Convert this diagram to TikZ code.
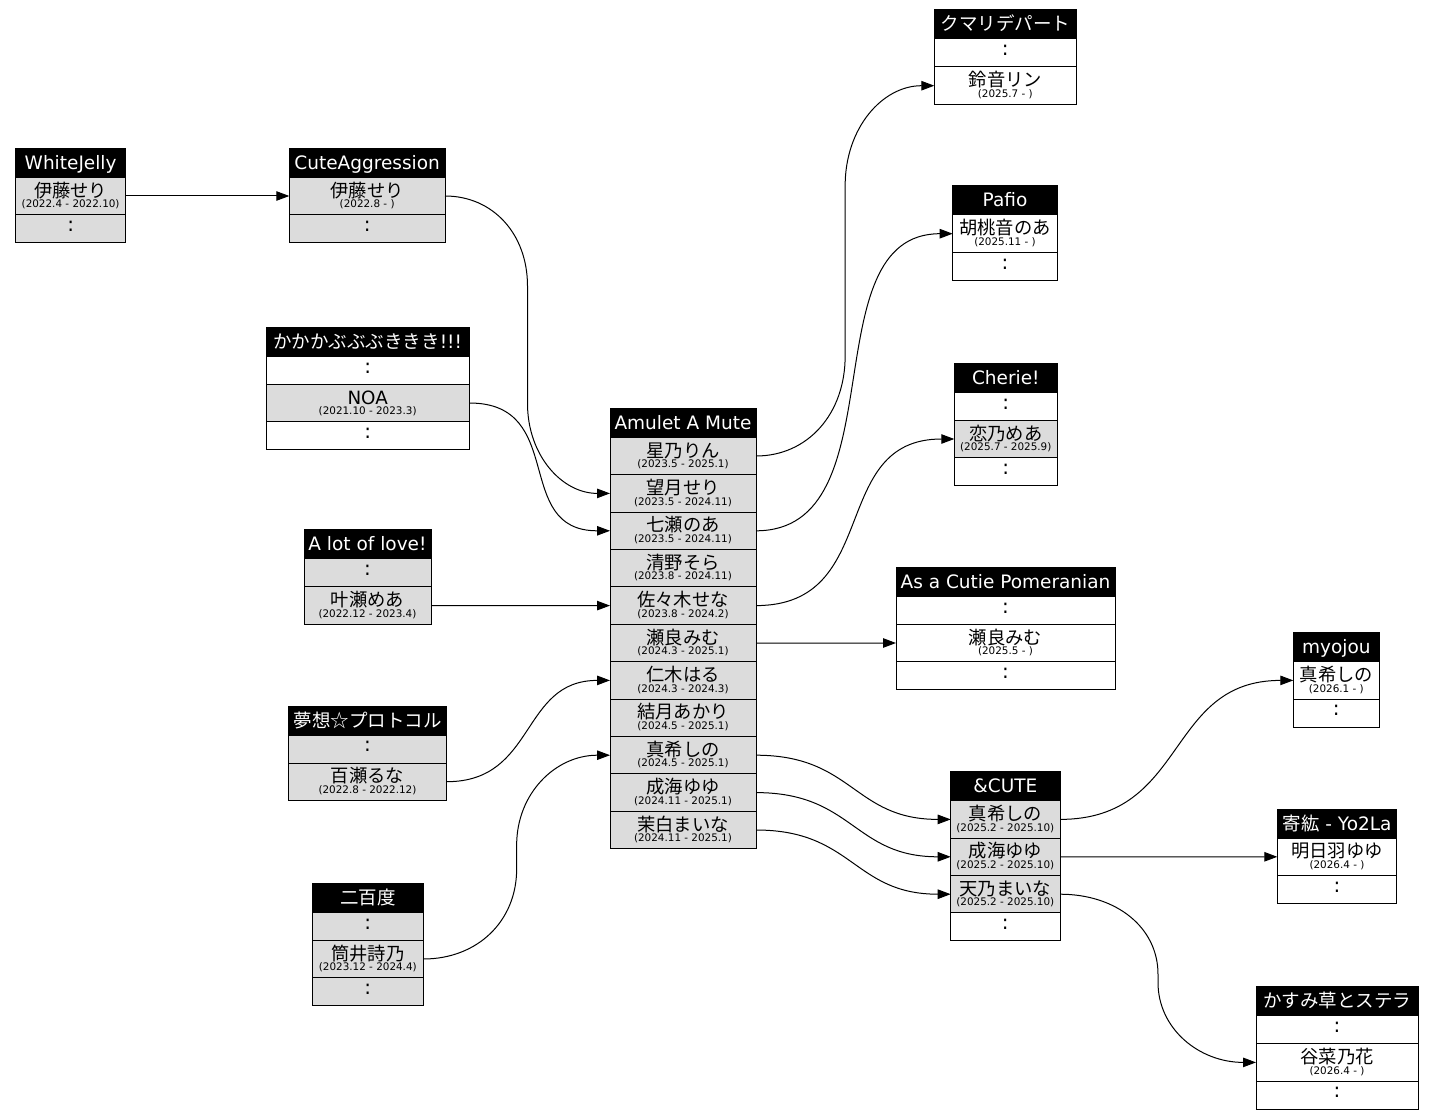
\documentclass[tikz,border=0pt]{standalone}
\usepackage{fontspec}
\setmainfont{DejaVu Sans}
\newfontfamily\jp{Noto Sans CJK JP}
\usetikzlibrary{calc,arrows.meta}
\definecolor{rowgray}{HTML}{DCDCDC}
\tikzset{
 boxline/.style={draw=black, line width=1pt, inner sep=0pt, outer sep=0pt, anchor=north west},
 ttlbox/.style={boxline, fill=black, minimum height=29pt},
 colbox/.style={boxline, minimum height=28pt},
 nambox/.style={boxline, minimum height=37.4pt},
 ttltxt/.style={anchor=base, inner sep=0pt, text=white, font=\fontsize{18.5}{20}\selectfont},
 coltxt/.style={anchor=base, inner sep=0pt, font=\fontsize{20}{22}\selectfont},
 namtxt/.style={anchor=base, inner sep=0pt, font=\fontsize{18.3}{20}\selectfont},
 datetxt/.style={anchor=base, inner sep=0pt, font=\fontsize{10.4}{12}\selectfont},
 edge/.style={draw=black, line width=1pt, -{Triangle[length=13pt,width=9.5pt]}},
}
\newcommand\Ttl[5]{\def\bw{#4}%
 \node[ttlbox, minimum width=#4pt] (#1) at (#2,#3) {};
 \node[ttltxt] (#1-t) at ($(#1.north)+(0,21)$) {#5};}
\newcommand\Col[3]{%
 \node[colbox, fill=#3, minimum width=\bw pt] (#1) at (#2.south west) {};
 \node[coltxt] (#1-t) at ($(#1.north)+(0,16.8)$) {:};}
\newcommand\Nam[5]{%
 \node[nambox, fill=#3, minimum width=\bw pt] (#1) at (#2.south west) {};
 \node[namtxt] (#1-n) at ($(#1.north)+(0,19.8)$) {#4};
 \node[datetxt] (#1-d) at ($(#1.north)+(0,30.4)$) {#5};}
% S-curve, control points at fraction #3 of the horizontal run
\newcommand\Gconn[3]{%
 \draw[edge] (#1.east) .. controls ($(#1.east)!#3!(#2.west |- #1.east)$)
   and ($(#2.west)!#3!(#1.east |- #2.west)$) .. (#2.west);}
% S-curve with a straight vertical middle, corner height #3
\newcommand\Lconn[3]{%
 \coordinate (mm) at ($(#1.east)!0.5!(#2.west)$);
 \coordinate (c1) at (mm |- #1.east);
 \coordinate (c2) at (mm |- #2.west);
 \draw[edge] (#1.east) .. controls ($(#1.east)!0.58!(c1)$) and ($(c1)!0.42*#3!(c2)$) .. ($(c1)!#3!(c2)$)
   -- ($(c2)!#3!(c1)$) .. controls ($(c2)!0.42*#3!(c1)$) and ($(#2.west)!0.58!(c2)$) .. (#2.west);}
\begin{document}
\begin{tikzpicture}[x=1pt,y=-1pt]
\fill[white] (0,0) rectangle (1433,1118);
\useasboundingbox (0,0) rectangle (1433,1118);

% WhiteJelly
\Ttl{wj}{15.5}{148.3}{110.3}{WhiteJelly}
\Nam{wj1}{wj}{rowgray}{\jp 伊藤せり}{(2022.4 - 2022.10)}
\Col{wj2}{wj1}{rowgray}
% CuteAggression
\Ttl{ca}{289.3}{148.3}{155.7}{CuteAggression}
\Nam{ca1}{ca}{rowgray}{\jp 伊藤せり}{(2022.8 - )}
\Col{ca2}{ca1}{rowgray}
% kakaka
\Ttl{kk}{266}{327.3}{203.3}{{\jp かかかぶぶぶききき}!!!}
\Col{kk1}{kk}{white}
\Nam{kk2}{kk1}{rowgray}{NOA}{(2021.10 - 2023.3)}
\Col{kk3}{kk2}{white}
% A lot of love!
\Ttl{al}{304}{529.9}{127}{A lot of love!}
\Col{al1}{al}{rowgray}
\Nam{al2}{al1}{rowgray}{\jp 叶瀬めあ}{(2022.12 - 2023.4)}
% Mugen protocol
\Ttl{mp}{288.3}{706}{158.4}{{\jp 夢想☆プロトコル}}
\Col{mp1}{mp}{rowgray}
\Nam{mp2}{mp1}{rowgray}{\jp 百瀬るな}{(2022.8 - 2022.12)}
% Nihyakudo
\Ttl{nh}{312.3}{883.3}{111}{{\jp 二百度}}
\Col{nh1}{nh}{rowgray}
\Nam{nh2}{nh1}{rowgray}{\jp 筒井詩乃}{(2023.12 - 2024.4)}
\Col{nh3}{nh2}{rowgray}
% Amulet A Mute
\Ttl{am}{610}{408.3}{146}{Amulet A Mute}
\Nam{am1}{am}{rowgray}{\jp 星乃りん}{(2023.5 - 2025.1)}
\Nam{am2}{am1}{rowgray}{\jp 望月せり}{(2023.5 - 2024.11)}
\Nam{am3}{am2}{rowgray}{\jp 七瀬のあ}{(2023.5 - 2024.11)}
\Nam{am4}{am3}{rowgray}{\jp 清野そら}{(2023.8 - 2024.11)}
\Nam{am5}{am4}{rowgray}{\jp 佐々木せな}{(2023.8 - 2024.2)}
\Nam{am6}{am5}{rowgray}{\jp 瀬良みむ}{(2024.3 - 2025.1)}
\Nam{am7}{am6}{rowgray}{\jp 仁木はる}{(2024.3 - 2024.3)}
\Nam{am8}{am7}{rowgray}{\jp 結月あかり}{(2024.5 - 2025.1)}
\Nam{am9}{am8}{rowgray}{\jp 真希しの}{(2024.5 - 2025.1)}
\Nam{am10}{am9}{rowgray}{\jp 成海ゆゆ}{(2024.11 - 2025.1)}
\Nam{am11}{am10}{rowgray}{\jp 茉白まいな}{(2024.11 - 2025.1)}
% Kumari Department
\Ttl{km}{934.3}{10}{142}{{\jp クマリデパート}}
\Col{km1}{km}{white}
\Nam{km2}{km1}{white}{\jp 鈴音リン}{(2025.7 - )}
% Pafio
\Ttl{pf}{952.7}{186}{104.6}{Pafio}
\Nam{pf1}{pf}{white}{\jp 胡桃音のあ}{(2025.11 - )}
\Col{pf2}{pf1}{white}
% Cherie!
\Ttl{ch}{954.3}{363.3}{103}{Cherie!}
\Col{ch1}{ch}{white}
\Nam{ch2}{ch1}{rowgray}{\jp 恋乃めあ}{(2025.7 - 2025.9)}
\Col{ch3}{ch2}{white}
% As a Cutie Pomeranian
\Ttl{ac}{896}{567.3}{219}{As a Cutie Pomeranian}
\Col{ac1}{ac}{white}
\Nam{ac2}{ac1}{white}{\jp 瀬良みむ}{(2025.5 - )}
\Col{ac3}{ac2}{white}
% &CUTE
\Ttl{ct}{950.7}{771.7}{109.3}{\&CUTE}
\Nam{ct1}{ct}{rowgray}{\jp 真希しの}{(2025.2 - 2025.10)}
\Nam{ct2}{ct1}{rowgray}{\jp 成海ゆゆ}{(2025.2 - 2025.10)}
\Nam{ct3}{ct2}{rowgray}{\jp 天乃まいな}{(2025.2 - 2025.10)}
\Col{ct4}{ct3}{white}
% myojou
\Ttl{my}{1293.3}{632.7}{86}{myojou}
\Nam{my1}{my}{white}{\jp 真希しの}{(2026.1 - )}
\Col{my2}{my1}{white}
% Yo2La
\Ttl{yo}{1277.3}{809.1}{119.4}{{\jp 寄紘} - Yo2La}
\Nam{yo1}{yo}{white}{\jp 明日羽ゆゆ}{(2026.4 - )}
\Col{yo2}{yo1}{white}
% Kasumisou to Stella
\Ttl{ks}{1256}{986.7}{162}{{\jp かすみ草とステラ}}
\Col{ks1}{ks}{white}
\Nam{ks2}{ks1}{white}{\jp 谷菜乃花}{(2026.4 - )}
\Col{ks3}{ks2}{white}

% edges
\draw[edge] (wj1.east) -- (ca1.west);
\Lconn{ca1}{am2}{90pt}
\Gconn{kk2}{am3}{0.7}
\draw[edge] (al2.east) -- (am5.west);
\Gconn{mp2}{am7}{0.55}
\Lconn{nh2}{am9}{90pt}
\Lconn{am1}{km2}{100pt}
\Gconn{am3}{pf1}{0.73}
\Gconn{am5}{ch2}{0.64}
\draw[edge] (am6.east) -- (ac2.west);
\Gconn{am9}{ct1}{0.5}
\Gconn{am10}{ct2}{0.5}
\Gconn{am11}{ct3}{0.5}
\Gconn{ct1}{my1}{0.55}
\draw[edge] (ct2.east) -- (yo1.west);
\Lconn{ct3}{ks2}{80pt}
\end{tikzpicture}
\end{document}
